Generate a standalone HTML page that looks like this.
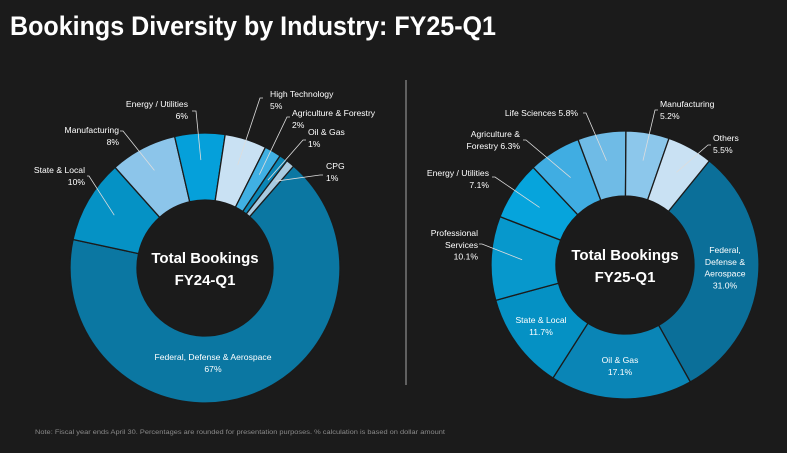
<!DOCTYPE html>
<html><head><meta charset="utf-8"><style>
html,body{margin:0;padding:0;background:#1b1b1b;}
svg{display:block;font-family:"Liberation Sans",Arial,sans-serif;}
</style></head><body>
<svg id="c" width="787" height="453" viewBox="0 0 787 453">
<rect width="787" height="453" fill="#1b1b1b"/>
<text x="10" y="35" fill="#fff" font-size="27" font-weight="bold" textLength="486" lengthAdjust="spacingAndGlyphs">Bookings Diversity by Industry: FY25-Q1</text>
<line x1="406" y1="80" x2="406" y2="385" stroke="#777" stroke-width="1.5"/>
<text x="35" y="434" fill="#8a8a8a" font-size="6.6" textLength="410" lengthAdjust="spacingAndGlyphs">Note: Fiscal year ends April 30. Percentages are rounded for presentation purposes. % calculation is based on dollar amount</text>
</svg>
<script>
// FY24-Q1 data
const leftCategories = ["Federal, Defense & Aerospace","State & Local","Manufacturing","Energy / Utilities","High Technology","Agriculture & Forestry","Oil & Gas","CPG"];
const leftValues = [67,10,8,6,5,2,1,1];
const leftLabels = ["67%","10%","8%","6%","5%","2%","1%","1%"];
// FY25-Q1 data
const rightCategories = ["Federal, Defense & Aerospace","Oil & Gas","State & Local","Professional Services","Energy / Utilities","Agriculture & Forestry","Life Sciences","Manufacturing","Others"];
const rightValues = [31.0,17.1,11.7,10.1,7.1,6.3,5.8,5.2,5.5];
const rightLabels = ["31.0%","17.1%","11.7%","10.1%","7.1%","6.3%","5.8%","5.2%","5.5%"];

const svg = document.getElementById('c');
const NS = 'http://www.w3.org/2000/svg';
function mk(tag, attrs){const e=document.createElementNS(NS,tag);for(const k in attrs)e.setAttribute(k,attrs[k]);svg.appendChild(e);return e;}
function pt(cx,cy,r,deg){const a=deg*Math.PI/180;return [cx+r*Math.sin(a),cy-r*Math.cos(a)];}

function donut(cfg){
  const total=cfg.values.reduce((a,b)=>a+b,0);
  let ang=cfg.start;
  const mids=[];
  cfg.values.forEach((v,i)=>{
    const sweep=v/total*360;
    const a0=ang,a1=ang+sweep;
    const [x0,y0]=pt(cfg.cx,cfg.cy,cfg.r,a0),[x1,y1]=pt(cfg.cx,cfg.cy,cfg.r,a1);
    const [x2,y2]=pt(cfg.cx,cfg.cy,cfg.ri,a1),[x3,y3]=pt(cfg.cx,cfg.cy,cfg.ri,a0);
    const lg=sweep>180?1:0;
    const p=mk('path',{d:`M${x0},${y0}A${cfg.r},${cfg.r} 0 ${lg} 1 ${x1},${y1}L${x2},${y2}A${cfg.ri},${cfg.ri} 0 ${lg} 0 ${x3},${y3}Z`,fill:cfg.colors[i],stroke:'#1b1b1b','stroke-width':1.3});
    
    
    mids.push((a0+a1)/2);
    ang=a1;
  });
  const c=mk('circle',{cx:cfg.cx,cy:cfg.cy,r:cfg.ri,fill:'#1b1b1b'});
  
  
  const t1=mk('text',{x:cfg.cx,y:cfg.cy-5,fill:'#fff','font-size':15,'font-weight':'bold','text-anchor':'middle'});
  t1.textContent='Total Bookings';
  
  
  const t2=mk('text',{x:cfg.cx,y:cfg.cy+17,fill:'#fff','font-size':15,'font-weight':'bold','text-anchor':'middle'});
  t2.textContent=cfg.period;
  
  
  cfg.labels.forEach((L,i)=>{
    if(L.leader){
      const [sx,sy]=pt(cfg.cx,cfg.cy,L.lr||cfg.r-28,mids[i]);
      const ln=mk('polyline',{points:`${sx},${sy} ${L.leader[0]},${L.leader[1]} ${L.leader[0]+L.tick},${L.leader[1]}`,fill:'none',stroke:'#ddd','stroke-width':0.8});
      
      
    }
    const lines=L.text(cfg.categories[i],cfg.pct[i]);
    lines.forEach((s,j)=>{
      const t=mk('text',{x:L.x,y:L.y+j*11.8,fill:'#fff','font-size':8.6,'text-anchor':L.anchor});
      t.textContent=s;
      
      
    });
  });
}

donut({prefix:'fy24',cx:205,cy:268,r:135,ri:68,start:41,period:'FY24-Q1',
  categories:leftCategories,values:leftValues,pct:leftLabels,
  colors:['#0b77a2','#0592c5','#8cc5ea','#05a0da','#c9e1f3','#40b0e3','#0a86b6','#a9cbe0'],
  labels:[
    {x:213,y:360,anchor:'middle',text:(c,p)=>[c,p]},
    {x:85,y:173,anchor:'end',leader:[89,176],tick:-2,lr:105,text:(c,p)=>[c,p]},
    {x:119,y:133,anchor:'end',leader:[123,131],tick:-3,lr:110,text:(c,p)=>[c,p]},
    {x:188,y:107,anchor:'end',leader:[196,111],tick:-4,lr:108,text:(c,p)=>[c,p]},
    {x:270,y:97,anchor:'start',leader:[260,98],tick:3,lr:108,text:(c,p)=>[c,p]},
    {x:292,y:116,anchor:'start',leader:[287,117],tick:3,lr:108,text:(c,p)=>[c,p]},
    {x:308,y:135,anchor:'start',leader:[303,140],tick:3,lr:108,text:(c,p)=>[c,p]},
    {x:326,y:169,anchor:'start',leader:[320,175],tick:3,lr:112,text:(c,p)=>[c,p]}
  ]});

donut({prefix:'fy25',cx:625,cy:265,r:134,ri:69,start:39,period:'FY25-Q1',
  categories:rightCategories,values:rightValues,pct:rightLabels,
  colors:['#0b6f99','#0a85b6','#0591c4','#0798cc','#06a4dc','#40ade2','#6fbbe6','#8cc7eb','#c9e1f3'],
  labels:[
    {x:725,y:253,anchor:'middle',text:(c,p)=>['Federal,','Defense &','Aerospace',p]},
    {x:620,y:363,anchor:'middle',text:(c,p)=>[c,p]},
    {x:541,y:323,anchor:'middle',text:(c,p)=>[c,p]},
    {x:478,y:236,anchor:'end',leader:[482,244],tick:-3,lr:103,text:(c,p)=>['Professional','Services',p]},
    {x:489,y:176,anchor:'end',leader:[495,177],tick:-3,lr:103,text:(c,p)=>[c,p]},
    {x:520,y:137,anchor:'end',leader:[526,140],tick:-3,lr:103,text:(c,p)=>['Agriculture &','Forestry '+p]},
    {x:578,y:116,anchor:'end',leader:[586,113],tick:-3,lr:106,text:(c,p)=>[c+' '+p]},
    {x:660,y:107,anchor:'start',leader:[655,110],tick:3,lr:106,text:(c,p)=>[c,p]},
    {x:713,y:141,anchor:'start',leader:[708,145],tick:3,lr:106,text:(c,p)=>[c,p]}
  ]});
</script>
</body></html>
